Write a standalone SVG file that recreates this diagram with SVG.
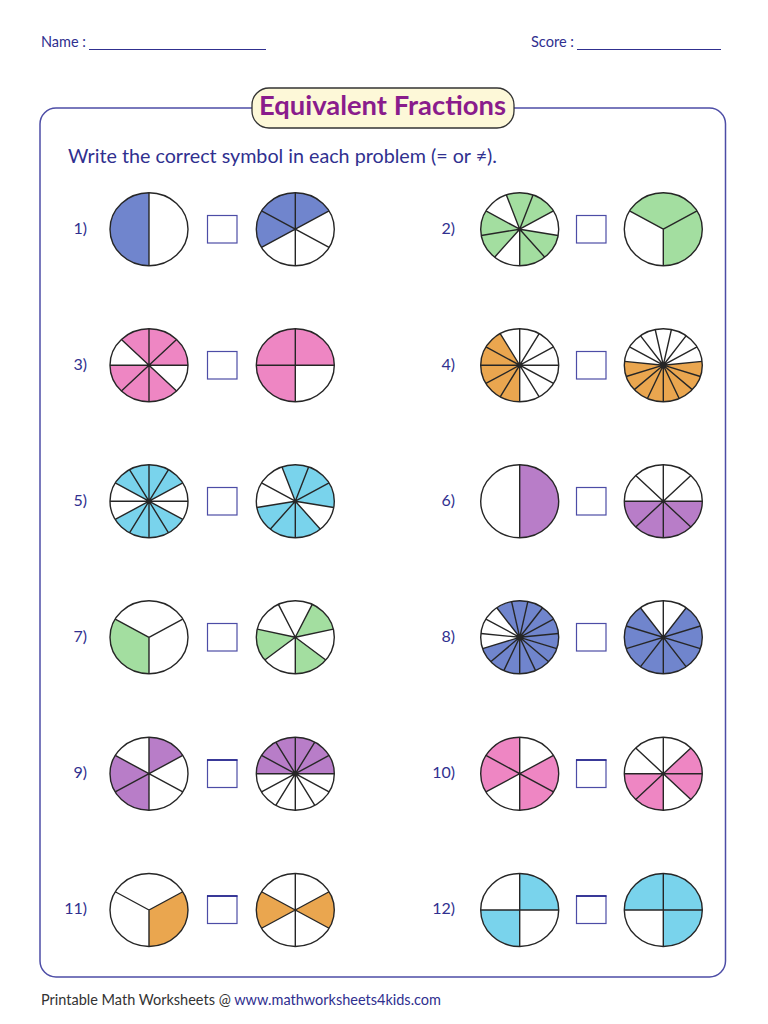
<svg xmlns="http://www.w3.org/2000/svg" xmlns:xlink="http://www.w3.org/1999/xlink" width="768" height="1024" viewBox="0 0 768 1024">
<style>
text{font-family:Lato,"Open Sans","Liberation Sans",sans-serif;fill:#30308f}
.n{font-size:16px;text-anchor:end}
.b{fill:#7085cd}.g{fill:#a3dea0}.p{fill:#ee86c3}.o{fill:#eaa64f}.s{fill:#79d3ec}.v{fill:#b87dc8}
.l,.c{fill:none;stroke:#262626;stroke-width:1.4;vector-effect:non-scaling-stroke}
.c{fill:none}
.box{fill:#fff;stroke:#4d4da6;stroke-width:1.2}
.top{stroke:#23238c;stroke-width:1.6}
.rule{stroke:#30308f;stroke-width:1.1}
</style>
<defs>
<path id="w2" d="M0 0V-1A1 1 0 0 1 0 1Z"/>
<path id="w3" d="M0 0V-1A1 1 0 0 1 .866 .5Z"/>
<path id="w4" d="M0 0V-1A1 1 0 0 1 1 0Z"/>
<path id="w6" d="M0 0V-1A1 1 0 0 1 .866 -.5Z"/>
<path id="w7" d="M0 0V-1A1 1 0 0 1 .7818 -.6235Z"/>
<path id="w8" d="M0 0V-1A1 1 0 0 1 .7071 -.7071Z"/>
<path id="w9" d="M0 0V-1A1 1 0 0 1 .6428 -.766Z"/>
<path id="w10" d="M0 0V-1A1 1 0 0 1 .5878 -.809Z"/>
<path id="w12" d="M0 0V-1A1 1 0 0 1 .5 -.866Z"/>
<path id="w15" d="M0 0V-1A1 1 0 0 1 .4067 -.9135Z"/>
<path id="s2" class="l" d="M0 -1V1"/>
<path id="s3" class="l" d="M0 0V1M0 0L-.866 -.5M0 0L.866 -.5"/>
<path id="s4" class="l" d="M0 -1V1M-1 0H1"/>
<path id="s6" class="l" d="M0 -1V1M-.866 -.5L.866 .5M-.866 .5L.866 -.5"/>
<path id="s7" class="l" d="M0 0V1M0 0L-.7818 .6235M0 0L-.9749 -.2225M0 0L-.4339 -.901M0 0L.4339 -.901M0 0L.9749 -.2225M0 0L.7818 .6235"/>
<path id="s8" class="l" d="M0 -1V1M-1 0H1M-.7071 -.7071L.7071 .7071M-.7071 .7071L.7071 -.7071"/>
<path id="s9" class="l" d="M0 0V1M0 0L-.6428 .766M0 0L-.9848 .1736M0 0L-.866 -.5M0 0L-.342 -.9397M0 0L.342 -.9397M0 0L.866 -.5M0 0L.9848 .1736M0 0L.6428 .766"/>
<path id="s10" class="l" d="M0 -1V1M-.5878 .809L.5878 -.809M-.9511 .309L.9511 -.309M-.9511 -.309L.9511 .309M-.5878 -.809L.5878 .809"/>
<path id="s12" class="l" d="M0 -1V1M-1 0H1M-.5 .866L.5 -.866M-.866 .5L.866 -.5M-.866 -.5L.866 .5M-.5 -.866L.5 .866"/>
<path id="s15" class="l" d="M0 0V1M0 0L-.4067 .9135M0 0L-.7431 .6691M0 0L-.9511 .309M0 0L-.9945 -.1045M0 0L-.866 -.5M0 0L-.5878 -.809M0 0L-.2079 -.9781M0 0L.2079 -.9781M0 0L.5878 -.809M0 0L.866 -.5M0 0L.9945 -.1045M0 0L.9511 .309M0 0L.7431 .6691M0 0L.4067 .9135"/>
<circle id="o" class="c" r="1"/>
</defs>
<g id="header">
<text x="41" y="47" font-size="15" textLength="45" lengthAdjust="spacingAndGlyphs">Name :</text>
<line class="rule" x1="89" y1="49.5" x2="266" y2="49.5"/>
<text x="531" y="47" font-size="15" textLength="43" lengthAdjust="spacingAndGlyphs">Score :</text>
<line class="rule" x1="577" y1="49.5" x2="721" y2="49.5"/>
</g>
<rect id="frame" x="40" y="108" width="685.5" height="869" rx="16" fill="#fff" stroke="#4d4da6" stroke-width="1.5"/>
<g id="title">
<rect x="252" y="88" width="262" height="40" rx="17" fill="#fdf8d8" stroke="#333" stroke-width="1.3"/>
<text x="259" y="115" font-size="27" font-weight="700" style="fill:#8a1c8c" textLength="247" lengthAdjust="spacingAndGlyphs">Equivalent Fractions</text>
</g>
<text id="instruction" x="68" y="163" font-size="20" textLength="429" lengthAdjust="spacingAndGlyphs">Write the correct symbol in each problem (= or ≠).</text>

<g id="problem1">
<text class="n" x="87" y="234">1)</text>
<g transform="translate(149,229.2) scale(39,36.5)"><use href="#w2" class="b" transform="rotate(180)"/><use href="#s2"/><use href="#o"/></g>
<rect class="box" x="207.5" y="215.5" width="29.5" height="27.5"/>
<g transform="translate(295.3,229.2) scale(39,36.5)"><use href="#w6" class="b"/><use href="#w6" class="b" transform="rotate(240)"/><use href="#w6" class="b" transform="rotate(300)"/><use href="#s6"/><use href="#o"/></g>
</g>
<g id="problem2">
<text class="n" x="455" y="234">2)</text>
<g transform="translate(519.7,229.2) scale(39,36.5)"><use href="#w9" class="g" transform="rotate(220)"/><use href="#w9" class="g" transform="rotate(260)"/><use href="#w9" class="g" transform="rotate(340)"/><use href="#w9" class="g" transform="rotate(20)"/><use href="#w9" class="g" transform="rotate(100)"/><use href="#w9" class="g" transform="rotate(140)"/><use href="#s9"/><use href="#o"/></g>
<rect class="box" x="576.5" y="215.5" width="29.5" height="27.5"/>
<g transform="translate(663.3,229.2) scale(39,36.5)"><use href="#w3" class="g" transform="rotate(300)"/><use href="#w3" class="g" transform="rotate(60)"/><use href="#s3"/><use href="#o"/></g>
</g>
<g id="problem3">
<text class="n" x="87" y="370">3)</text>
<g transform="translate(149,365.2) scale(39,36.5)"><use href="#w8" class="p"/><use href="#w8" class="p" transform="rotate(45)"/><use href="#w8" class="p" transform="rotate(135)"/><use href="#w8" class="p" transform="rotate(180)"/><use href="#w8" class="p" transform="rotate(225)"/><use href="#w8" class="p" transform="rotate(315)"/><use href="#s8"/><use href="#o"/></g>
<rect class="box" x="207.5" y="351.5" width="29.5" height="27.5"/>
<g transform="translate(295.3,365.2) scale(39,36.5)"><use href="#w4" class="p"/><use href="#w4" class="p" transform="rotate(180)"/><use href="#w4" class="p" transform="rotate(270)"/><use href="#s4"/><use href="#o"/></g>
</g>
<g id="problem4">
<text class="n" x="455" y="370">4)</text>
<g transform="translate(519.7,365.2) scale(39,36.5)"><use href="#w12" class="o" transform="rotate(180)"/><use href="#w12" class="o" transform="rotate(210)"/><use href="#w12" class="o" transform="rotate(240)"/><use href="#w12" class="o" transform="rotate(270)"/><use href="#w12" class="o" transform="rotate(300)"/><use href="#s12"/><use href="#o"/></g>
<rect class="box" x="576.5" y="351.5" width="29.5" height="27.5"/>
<g transform="translate(663.3,365.2) scale(39,36.5)"><use href="#w15" class="o" transform="rotate(84)"/><use href="#w15" class="o" transform="rotate(108)"/><use href="#w15" class="o" transform="rotate(132)"/><use href="#w15" class="o" transform="rotate(156)"/><use href="#w15" class="o" transform="rotate(180)"/><use href="#w15" class="o" transform="rotate(204)"/><use href="#w15" class="o" transform="rotate(228)"/><use href="#w15" class="o" transform="rotate(252)"/><use href="#s15"/><use href="#o"/></g>
</g>
<g id="problem5">
<text class="n" x="87" y="506">5)</text>
<g transform="translate(149,501.2) scale(39,36.5)"><use href="#w12" class="s"/><use href="#w12" class="s" transform="rotate(30)"/><use href="#w12" class="s" transform="rotate(120)"/><use href="#w12" class="s" transform="rotate(150)"/><use href="#w12" class="s" transform="rotate(180)"/><use href="#w12" class="s" transform="rotate(210)"/><use href="#w12" class="s" transform="rotate(300)"/><use href="#w12" class="s" transform="rotate(330)"/><use href="#s12"/><use href="#o"/></g>
<rect class="box" x="207.5" y="487.5" width="29.5" height="27.5"/>
<g transform="translate(295.3,501.2) scale(39,36.5)"><use href="#w9" class="s" transform="rotate(340)"/><use href="#w9" class="s" transform="rotate(20)"/><use href="#w9" class="s" transform="rotate(60)"/><use href="#w9" class="s" transform="rotate(140)"/><use href="#w9" class="s" transform="rotate(180)"/><use href="#w9" class="s" transform="rotate(220)"/><use href="#s9"/><use href="#o"/></g>
</g>
<g id="problem6">
<text class="n" x="455" y="506">6)</text>
<g transform="translate(519.7,501.2) scale(39,36.5)"><use href="#w2" class="v"/><use href="#s2"/><use href="#o"/></g>
<rect class="box" x="576.5" y="487.5" width="29.5" height="27.5"/>
<g transform="translate(663.3,501.2) scale(39,36.5)"><use href="#w8" class="v" transform="rotate(90)"/><use href="#w8" class="v" transform="rotate(135)"/><use href="#w8" class="v" transform="rotate(180)"/><use href="#w8" class="v" transform="rotate(225)"/><use href="#s8"/><use href="#o"/></g>
</g>
<g id="problem7">
<text class="n" x="87" y="642">7)</text>
<g transform="translate(149,637.3) scale(39,36.5)"><use href="#w3" class="g" transform="rotate(180)"/><use href="#s3"/><use href="#o"/></g>
<rect class="box" x="207.5" y="623.5" width="29.5" height="27.5"/>
<g transform="translate(295.3,637.3) scale(39,36.5)"><use href="#w7" class="g" transform="rotate(25.71)"/><use href="#w7" class="g" transform="rotate(128.57)"/><use href="#w7" class="g" transform="rotate(231.43)"/><use href="#s7"/><use href="#o"/></g>
</g>
<g id="problem8">
<text class="n" x="455" y="642">8)</text>
<g transform="translate(519.7,637.3) scale(39,36.5)"><use href="#w15" class="b" transform="rotate(324)"/><use href="#w15" class="b" transform="rotate(348)"/><use href="#w15" class="b" transform="rotate(12)"/><use href="#w15" class="b" transform="rotate(36)"/><use href="#w15" class="b" transform="rotate(60)"/><use href="#w15" class="b" transform="rotate(84)"/><use href="#w15" class="b" transform="rotate(108)"/><use href="#w15" class="b" transform="rotate(132)"/><use href="#w15" class="b" transform="rotate(156)"/><use href="#w15" class="b" transform="rotate(180)"/><use href="#w15" class="b" transform="rotate(204)"/><use href="#w15" class="b" transform="rotate(228)"/><use href="#s15"/><use href="#o"/></g>
<rect class="box" x="576.5" y="623.5" width="29.5" height="27.5"/>
<g transform="translate(663.3,637.3) scale(39,36.5)"><use href="#w10" class="b" transform="rotate(36)"/><use href="#w10" class="b" transform="rotate(72)"/><use href="#w10" class="b" transform="rotate(108)"/><use href="#w10" class="b" transform="rotate(144)"/><use href="#w10" class="b" transform="rotate(180)"/><use href="#w10" class="b" transform="rotate(216)"/><use href="#w10" class="b" transform="rotate(252)"/><use href="#w10" class="b" transform="rotate(288)"/><use href="#s10"/><use href="#o"/></g>
</g>
<g id="problem9">
<text class="n" x="87" y="778">9)</text>
<g transform="translate(149,773.7) scale(39,36.5)"><use href="#w6" class="v"/><use href="#w6" class="v" transform="rotate(180)"/><use href="#w6" class="v" transform="rotate(240)"/><use href="#s6"/><use href="#o"/></g>
<rect class="box" x="207.5" y="760" width="29.5" height="27.5"/><line class="top" x1="207" y1="760" x2="237.5" y2="760"/>
<g transform="translate(295.3,773.7) scale(39,36.5)"><use href="#w12" class="v"/><use href="#w12" class="v" transform="rotate(30)"/><use href="#w12" class="v" transform="rotate(60)"/><use href="#w12" class="v" transform="rotate(270)"/><use href="#w12" class="v" transform="rotate(300)"/><use href="#w12" class="v" transform="rotate(330)"/><use href="#s12"/><use href="#o"/></g>
</g>
<g id="problem10">
<text class="n" x="455" y="778">10)</text>
<g transform="translate(519.7,773.7) scale(39,36.5)"><use href="#w6" class="p" transform="rotate(60)"/><use href="#w6" class="p" transform="rotate(120)"/><use href="#w6" class="p" transform="rotate(240)"/><use href="#w6" class="p" transform="rotate(300)"/><use href="#s6"/><use href="#o"/></g>
<rect class="box" x="576.5" y="760" width="29.5" height="27.5"/><line class="top" x1="576" y1="760" x2="606.5" y2="760"/>
<g transform="translate(663.3,773.7) scale(39,36.5)"><use href="#w8" class="p" transform="rotate(45)"/><use href="#w8" class="p" transform="rotate(90)"/><use href="#w8" class="p" transform="rotate(180)"/><use href="#w8" class="p" transform="rotate(225)"/><use href="#s8"/><use href="#o"/></g>
</g>
<g id="problem11">
<text class="n" x="87" y="914">11)</text>
<g transform="translate(149,910) scale(39,36.5)"><use href="#w3" class="o" transform="rotate(60)"/><use href="#s3"/><use href="#o"/></g>
<rect class="box" x="207.5" y="896" width="29.5" height="27.5"/><line class="top" x1="207" y1="896" x2="237.5" y2="896"/>
<g transform="translate(295.3,910) scale(39,36.5)"><use href="#w6" class="o" transform="rotate(60)"/><use href="#w6" class="o" transform="rotate(240)"/><use href="#s6"/><use href="#o"/></g>
</g>
<g id="problem12">
<text class="n" x="455" y="914">12)</text>
<g transform="translate(519.7,910) scale(39,36.5)"><use href="#w4" class="s"/><use href="#w4" class="s" transform="rotate(180)"/><use href="#s4"/><use href="#o"/></g>
<rect class="box" x="576.5" y="896" width="29.5" height="27.5"/><line class="top" x1="576" y1="896" x2="606.5" y2="896"/>
<g transform="translate(663.3,910) scale(39,36.5)"><use href="#w4" class="s"/><use href="#w4" class="s" transform="rotate(90)"/><use href="#w4" class="s" transform="rotate(270)"/><use href="#s4"/><use href="#o"/></g>
</g>
<text id="footer" x="41" y="1005" font-size="15" textLength="400" lengthAdjust="spacingAndGlyphs"><tspan style="fill:#333">Printable Math Worksheets @ </tspan><tspan>www.mathworksheets4kids.com</tspan></text>
</svg>
